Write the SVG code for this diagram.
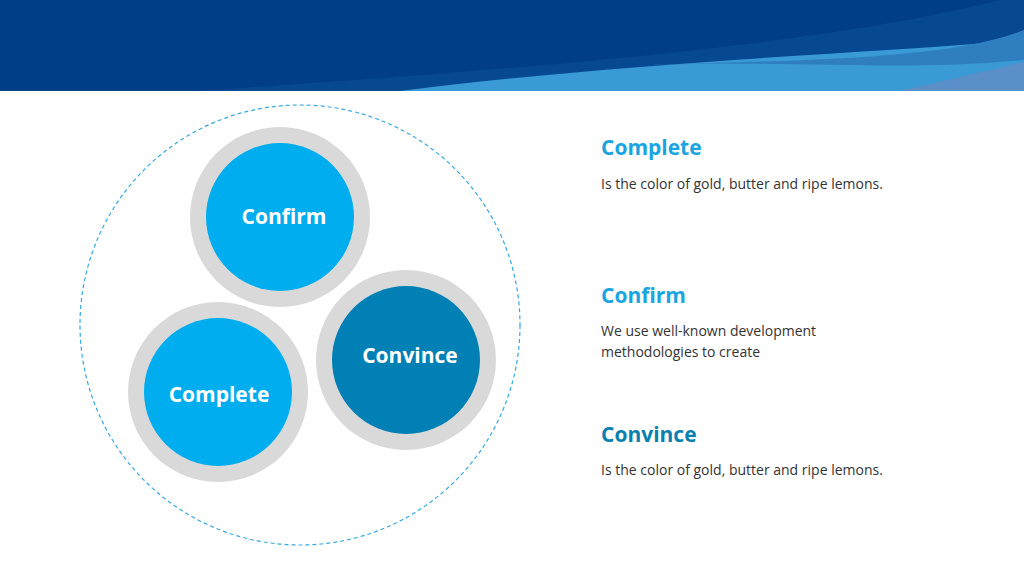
<svg xmlns="http://www.w3.org/2000/svg" width="1024" height="576" viewBox="0 0 1024 576">
<style>
.ring{fill:#d9d9d9}
.lbl{font-family:"Open Sans","Liberation Sans",sans-serif;font-weight:bold;font-size:21px;fill:#fff;text-anchor:middle}
.h{font-family:"Open Sans","Liberation Sans",sans-serif;font-weight:bold;font-size:21px}
.b{font-family:"Open Sans","Liberation Sans",sans-serif;font-size:14px;fill:#333}
</style>
<rect width="1024" height="576" fill="#fff"/>
<g id="header">
<rect width="1024" height="91" fill="#003f87"/>
<path d="M340 0 H1024 V91 H200 C500 70 800 50 1000 0 Z" fill="#0a4f96" opacity="0.7"/>
<path d="M400 91 C650 60 850 55 1024 40 V91 Z" fill="#3a9ad6"/>
<path d="M650 65 C800 60 900 72 1024 60 V30 C950 60 800 60 650 65 Z" fill="#2f7fc0"/>
<path d="M900 91 L1024 62 V91 Z" fill="#5a8fc8"/>
</g>
<circle cx="300" cy="325" r="220" fill="none" stroke="#35a8e0" stroke-width="1.2" stroke-dasharray="4 3"/>
<g id="confirm"><circle class="ring" cx="280" cy="217" r="90"/><circle cx="280" cy="217" r="74" fill="#00adef"/><text class="lbl" x="284" y="224">Confirm</text></g>
<g id="complete"><circle class="ring" cx="218" cy="392" r="90"/><circle cx="218" cy="392" r="74" fill="#00adef"/><text class="lbl" x="219" y="402">Complete</text></g>
<g id="convince"><circle class="ring" cx="406" cy="360" r="90"/><circle cx="406" cy="360" r="74" fill="#0080b5"/><text class="lbl" x="410" y="363">Convince</text></g>
<g id="text">
<text class="h" x="601" y="155" fill="#1aa5e0">Complete</text>
<text class="b" x="601" y="189">Is the color of gold, butter  and ripe lemons.</text>
<text class="h" x="601" y="303" fill="#1aa5e0">Confirm</text>
<text class="b" x="601" y="336">We use well-known development</text>
<text class="b" x="601" y="357">methodologies to create</text>
<text class="h" x="601" y="442" fill="#0a7fb0">Convince</text>
<text class="b" x="601" y="475">Is the color of gold, butter  and ripe lemons.</text>
</g>
</svg>
